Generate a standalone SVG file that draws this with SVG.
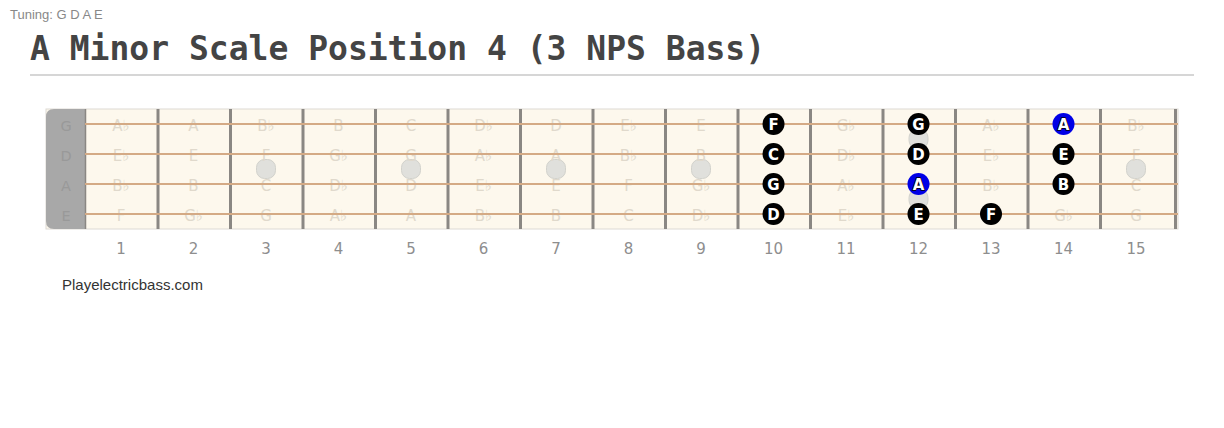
<svg xmlns="http://www.w3.org/2000/svg" width="1224" height="428" viewBox="0 0 1224 428">
<style>
.tun{font-family:"Liberation Sans",Arial,sans-serif;font-size:13px;fill:#888}
.title{font-family:"DejaVu Sans Mono",monospace;font-weight:bold;font-size:33px;fill:#444}
.site{font-family:"Liberation Sans",Arial,sans-serif;font-size:15px;fill:#333}
.fret{stroke:#8a8783;stroke-width:3}
.str{stroke:#d4aa85;stroke-width:2}
.ghost{font-family:"DejaVu Sans",sans-serif;font-size:15px;fill:#e0d9cc;text-anchor:middle}
.open{font-family:"DejaVu Sans",sans-serif;font-size:14.5px;fill:#999;text-anchor:middle}
.num{font-family:"DejaVu Sans",sans-serif;font-size:15px;fill:#8e8e8e;text-anchor:middle}
.dot{fill:#e0e0dc;stroke:#d2d2cc;stroke-width:1}
.n circle{fill:#000}
.n.root circle{fill:#0000e6}
.n text{font-family:"DejaVu Sans",sans-serif;font-weight:bold;font-size:15px;fill:#fff;text-anchor:middle;stroke:#000;stroke-width:1.5;paint-order:stroke}
</style>
<text class="tun" x="10" y="19">Tuning: G D A E</text>
<text class="title" x="30" y="60">A Minor Scale Position 4 (3 NPS Bass)</text>
<line x1="30" y1="75" x2="1194" y2="75" stroke="#c8c8c8" stroke-width="1.5"/>
<g id="fretboard">
<rect x="46" y="109" width="1132" height="120" fill="#fdf8ed" stroke="#dddad4" stroke-width="1"/>
<path d="M85 109 H54 Q46 109 46 117 V221 Q46 229 54 229 H85 Z" fill="#a8a8a8"/>
<line x1="85.5" y1="109" x2="85.5" y2="229" stroke="#8a8783" stroke-width="1.5"/>
<g id="inlays">
<rect class="dot" x="256.5" y="159.5" width="19" height="19" rx="8"/>
<rect class="dot" x="401.5" y="159.5" width="19" height="19" rx="8"/>
<rect class="dot" x="546.5" y="159.5" width="19" height="19" rx="8"/>
<rect class="dot" x="691.5" y="159.5" width="19" height="19" rx="8"/>
<rect class="dot" x="1126.5" y="159.5" width="19" height="19" rx="8"/>
<rect class="dot" x="909" y="129.5" width="19" height="19" rx="8"/>
<rect class="dot" x="909" y="189.5" width="19" height="19" rx="8"/>
</g>
<g id="frets">
<line class="fret" x1="158" y1="109" x2="158" y2="229"/>
<line class="fret" x1="230.5" y1="109" x2="230.5" y2="229"/>
<line class="fret" x1="303" y1="109" x2="303" y2="229"/>
<line class="fret" x1="375.5" y1="109" x2="375.5" y2="229"/>
<line class="fret" x1="448" y1="109" x2="448" y2="229"/>
<line class="fret" x1="520.5" y1="109" x2="520.5" y2="229"/>
<line class="fret" x1="593" y1="109" x2="593" y2="229"/>
<line class="fret" x1="665.5" y1="109" x2="665.5" y2="229"/>
<line class="fret" x1="738" y1="109" x2="738" y2="229"/>
<line class="fret" x1="810.5" y1="109" x2="810.5" y2="229"/>
<line class="fret" x1="883" y1="109" x2="883" y2="229"/>
<line class="fret" x1="955.5" y1="109" x2="955.5" y2="229"/>
<line class="fret" x1="1028" y1="109" x2="1028" y2="229"/>
<line class="fret" x1="1100.5" y1="109" x2="1100.5" y2="229"/>
<line class="fret" x1="1175.5" y1="109" x2="1175.5" y2="229"/>
</g>
<g id="ghost-notes">
<text class="ghost" x="121" y="131">A♭</text><text class="ghost" x="193.5" y="131">A</text><text class="ghost" x="266" y="131">B♭</text><text class="ghost" x="338.5" y="131">B</text><text class="ghost" x="411" y="131">C</text><text class="ghost" x="483.5" y="131">D♭</text><text class="ghost" x="556" y="131">D</text><text class="ghost" x="628.5" y="131">E♭</text><text class="ghost" x="701" y="131">E</text><text class="ghost" x="846" y="131">G♭</text><text class="ghost" x="991" y="131">A♭</text><text class="ghost" x="1136" y="131">B♭</text>
<text class="ghost" x="121" y="161">E♭</text><text class="ghost" x="193.5" y="161">E</text><text class="ghost" x="266" y="161">F</text><text class="ghost" x="338.5" y="161">G♭</text><text class="ghost" x="411" y="161">G</text><text class="ghost" x="483.5" y="161">A♭</text><text class="ghost" x="556" y="161">A</text><text class="ghost" x="628.5" y="161">B♭</text><text class="ghost" x="701" y="161">B</text><text class="ghost" x="846" y="161">D♭</text><text class="ghost" x="991" y="161">E♭</text><text class="ghost" x="1136" y="161">F</text>
<text class="ghost" x="121" y="191">B♭</text><text class="ghost" x="193.5" y="191">B</text><text class="ghost" x="266" y="191">C</text><text class="ghost" x="338.5" y="191">D♭</text><text class="ghost" x="411" y="191">D</text><text class="ghost" x="483.5" y="191">E♭</text><text class="ghost" x="556" y="191">E</text><text class="ghost" x="628.5" y="191">F</text><text class="ghost" x="701" y="191">G♭</text><text class="ghost" x="846" y="191">A♭</text><text class="ghost" x="991" y="191">B♭</text><text class="ghost" x="1136" y="191">C</text>
<text class="ghost" x="121" y="221">F</text><text class="ghost" x="193.5" y="221">G♭</text><text class="ghost" x="266" y="221">G</text><text class="ghost" x="338.5" y="221">A♭</text><text class="ghost" x="411" y="221">A</text><text class="ghost" x="483.5" y="221">B♭</text><text class="ghost" x="556" y="221">B</text><text class="ghost" x="628.5" y="221">C</text><text class="ghost" x="701" y="221">D♭</text><text class="ghost" x="846" y="221">E♭</text><text class="ghost" x="1063.5" y="221">G♭</text><text class="ghost" x="1136" y="221">G</text>
</g>
<g id="strings">
<line class="str" x1="85" y1="124" x2="1178" y2="124"/>
<line class="str" x1="85" y1="154" x2="1178" y2="154"/>
<line class="str" x1="85" y1="184" x2="1178" y2="184"/>
<line class="str" x1="85" y1="214" x2="1178" y2="214"/>
</g>
<g id="open-strings">
<text class="open" x="66" y="131">G</text>
<text class="open" x="66" y="161">D</text>
<text class="open" x="66" y="191">A</text>
<text class="open" x="66" y="221">E</text>
</g>
</g>
<g id="note-G10" class="n"><circle cx="773.5" cy="124" r="11"/><text x="773.5" y="129.5">F</text></g>
<g id="note-D10" class="n"><circle cx="773.5" cy="154" r="11"/><text x="773.5" y="159.5">C</text></g>
<g id="note-A10" class="n"><circle cx="773.5" cy="184" r="11"/><text x="773.5" y="189.5">G</text></g>
<g id="note-E10" class="n"><circle cx="773.5" cy="214" r="11"/><text x="773.5" y="219.5">D</text></g>
<g id="note-G12" class="n"><circle cx="918.5" cy="124" r="11"/><text x="918.5" y="129.5">G</text></g>
<g id="note-D12" class="n"><circle cx="918.5" cy="154" r="11"/><text x="918.5" y="159.5">D</text></g>
<g id="note-A12" class="n root"><circle cx="918.5" cy="184" r="11"/><text x="918.5" y="189.5">A</text></g>
<g id="note-E12" class="n"><circle cx="918.5" cy="214" r="11"/><text x="918.5" y="219.5">E</text></g>
<g id="note-E13" class="n"><circle cx="991" cy="214" r="11"/><text x="991" y="219.5">F</text></g>
<g id="note-G14" class="n root"><circle cx="1063.5" cy="124" r="11"/><text x="1063.5" y="129.5">A</text></g>
<g id="note-D14" class="n"><circle cx="1063.5" cy="154" r="11"/><text x="1063.5" y="159.5">E</text></g>
<g id="note-A14" class="n"><circle cx="1063.5" cy="184" r="11"/><text x="1063.5" y="189.5">B</text></g>
<g id="fret-numbers">
<text class="num" x="121" y="254">1</text><text class="num" x="193.5" y="254">2</text><text class="num" x="266" y="254">3</text><text class="num" x="338.5" y="254">4</text><text class="num" x="411" y="254">5</text><text class="num" x="483.5" y="254">6</text><text class="num" x="556" y="254">7</text><text class="num" x="628.5" y="254">8</text><text class="num" x="701" y="254">9</text><text class="num" x="773.5" y="254">10</text><text class="num" x="846" y="254">11</text><text class="num" x="918.5" y="254">12</text><text class="num" x="991" y="254">13</text><text class="num" x="1063.5" y="254">14</text><text class="num" x="1136" y="254">15</text>
</g>
<text class="site" x="62" y="290">Playelectricbass.com</text>
</svg>
